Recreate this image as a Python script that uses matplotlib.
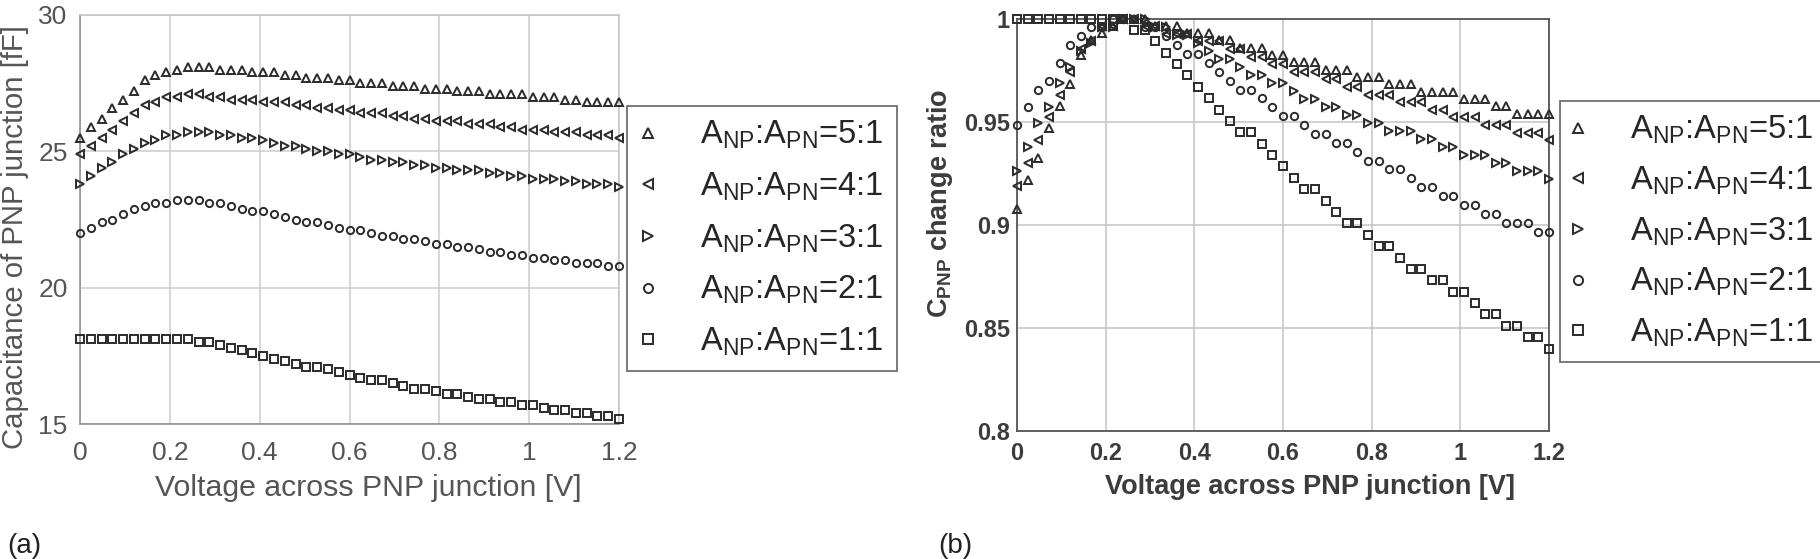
import numpy as np
import matplotlib
matplotlib.use('Agg')
import matplotlib.pyplot as plt

plt.rcParams['font.family'] = ['Liberation Sans', 'DejaVu Sans']
plt.rcParams['mathtext.default'] = 'regular'

# voltage across the PNP junction [V]
voltage = [0.000, 0.024, 0.048, 0.072, 0.096, 0.120, 0.144, 0.168, 0.192, 0.216,
           0.240, 0.264, 0.288, 0.312, 0.336, 0.360, 0.384, 0.408, 0.432, 0.456,
           0.480, 0.504, 0.528, 0.552, 0.576, 0.600, 0.624, 0.648, 0.672, 0.696,
           0.720, 0.744, 0.768, 0.792, 0.816, 0.840, 0.864, 0.888, 0.912, 0.936,
           0.960, 0.984, 1.008, 1.032, 1.056, 1.080, 1.104, 1.128, 1.152, 1.176,
           1.200]

# capacitance [fF] for each area ratio
cap_5to1 = [25.5, 25.9, 26.2, 26.6, 26.9, 27.2, 27.6, 27.8, 27.9, 28.0,
            28.1, 28.1, 28.1, 28.0, 28.0, 28.0, 27.9, 27.9, 27.9, 27.8,
            27.8, 27.7, 27.7, 27.7, 27.6, 27.6, 27.5, 27.5, 27.5, 27.4,
            27.4, 27.4, 27.3, 27.3, 27.3, 27.2, 27.2, 27.2, 27.1, 27.1,
            27.1, 27.1, 27.0, 27.0, 27.0, 26.9, 26.9, 26.8, 26.8, 26.8,
            26.8]
cap_4to1 = [24.9, 25.2, 25.5, 25.8, 26.1, 26.4, 26.7, 26.8, 27.0, 27.0,
            27.1, 27.1, 27.0, 27.0, 26.9, 26.9, 26.9, 26.8, 26.8, 26.8,
            26.7, 26.7, 26.6, 26.6, 26.5, 26.5, 26.4, 26.4, 26.4, 26.3,
            26.3, 26.2, 26.2, 26.1, 26.1, 26.1, 26.0, 26.0, 26.0, 25.9,
            25.9, 25.8, 25.8, 25.8, 25.7, 25.7, 25.7, 25.6, 25.6, 25.6,
            25.5]
cap_3to1 = [23.8, 24.1, 24.4, 24.6, 24.9, 25.1, 25.3, 25.4, 25.6, 25.6,
            25.7, 25.7, 25.7, 25.6, 25.6, 25.5, 25.5, 25.4, 25.3, 25.2,
            25.2, 25.1, 25.0, 25.0, 24.9, 24.9, 24.8, 24.7, 24.7, 24.6,
            24.6, 24.5, 24.5, 24.4, 24.4, 24.3, 24.3, 24.3, 24.2, 24.2,
            24.1, 24.1, 24.0, 24.0, 24.0, 23.9, 23.9, 23.8, 23.8, 23.8,
            23.7]
cap_2to1 = [22.0, 22.2, 22.4, 22.5, 22.7, 22.9, 23.0, 23.1, 23.1, 23.2,
            23.2, 23.2, 23.1, 23.1, 23.0, 22.9, 22.8, 22.8, 22.7, 22.6,
            22.5, 22.4, 22.4, 22.3, 22.2, 22.1, 22.1, 22.0, 21.9, 21.9,
            21.8, 21.8, 21.7, 21.6, 21.6, 21.5, 21.5, 21.4, 21.3, 21.3,
            21.2, 21.2, 21.1, 21.1, 21.0, 21.0, 20.9, 20.9, 20.9, 20.8,
            20.8]
cap_1to1 = [18.1, 18.1, 18.1, 18.1, 18.1, 18.1, 18.1, 18.1, 18.1, 18.1,
            18.1, 18.0, 18.0, 17.9, 17.8, 17.7, 17.6, 17.5, 17.4, 17.3,
            17.2, 17.1, 17.1, 17.0, 16.9, 16.8, 16.7, 16.6, 16.6, 16.5,
            16.4, 16.3, 16.3, 16.2, 16.1, 16.1, 16.0, 15.9, 15.9, 15.8,
            15.8, 15.7, 15.7, 15.6, 15.5, 15.5, 15.4, 15.4, 15.3, 15.3,
            15.2]

ratio_labels = ['A$_{NP}$:A$_{PN}$=5:1', 'A$_{NP}$:A$_{PN}$=4:1', 'A$_{NP}$:A$_{PN}$=3:1',
                'A$_{NP}$:A$_{PN}$=2:1', 'A$_{NP}$:A$_{PN}$=1:1']
markers = ['^', '<', '>', 'o', 's']
x_ticks = [0, 0.2, 0.4, 0.6, 0.8, 1.0, 1.2]
x_ticklabels = ['0', '0.2', '0.4', '0.6', '0.8', '1', '1.2']

W, H = 1820, 559
fig = plt.figure(figsize=(W / 100, H / 100), dpi=100)

def box(x0, y0, x1, y1):
    return [x0 / W, 1 - y1 / H, (x1 - x0) / W, (y1 - y0) / H]

def fx(x):
    return x / W

def fy(y):
    return 1 - y / H

ax1 = fig.add_axes(box(80, 15, 619, 424))
ax2 = fig.add_axes(box(1017, 18.5, 1549, 430.5))

mk = '#2b2b2b'
for caps, m, lab in zip([cap_5to1, cap_4to1, cap_3to1, cap_2to1, cap_1to1], markers, ratio_labels):
    caps = np.array(caps)
    ax1.plot(voltage, caps, ls='none', marker=m, ms=5.2, mfc='none', mec=mk, mew=1.4,
             clip_on=False, label=lab, zorder=3)
    # change ratio = capacitance relative to its own maximum
    ax2.plot(voltage, caps / caps.max(), ls='none', marker=m, ms=5.3, mfc='none', mec=mk,
             mew=1.4, clip_on=False, label=lab, zorder=3)

# left panel: light MATLAB look
ax1.set_xlim(0, 1.2)
ax1.set_ylim(15, 30)
ax1.set_xticks(x_ticks)
ax1.set_xticklabels(x_ticklabels)
ax1.set_yticks([15, 20, 25, 30])
ax1.grid(True, color='#cdcdcd', lw=1.1)
ax1.set_axisbelow(True)
for s in ['left', 'bottom']:
    ax1.spines[s].set_color('#8a8a8a')
for s in ['top', 'right']:
    ax1.spines[s].set_color('#c4c4c4')
for s in ax1.spines.values():
    s.set_linewidth(1.1)
ax1.tick_params(axis='both', direction='in', length=0, labelsize=19, labelcolor='#555555')
ax1.tick_params(axis='y', pad=9)
ax1.tick_params(axis='x', pad=12)

# right panel: bold, darker
ax2.set_xlim(0, 1.2)
ax2.set_ylim(0.8, 1.0)
ax2.set_xticks(x_ticks)
ax2.set_xticklabels(x_ticklabels)
ax2.set_yticks([0.8, 0.85, 0.9, 0.95, 1.0])
ax2.set_yticklabels(['0.8', '0.85', '0.9', '0.95', '1'])
ax2.grid(True, color='#c4c4c4', lw=1.1)
ax2.set_axisbelow(True)
for s in ax2.spines.values():
    s.set_color('#555555')
    s.set_linewidth(1.3)
ax2.tick_params(axis='both', direction='in', length=0, labelsize=17, labelcolor='#3c3c3c')
for t in ax2.get_xticklabels() + ax2.get_yticklabels():
    t.set_fontweight('bold')
ax2.tick_params(axis='y', pad=5)
ax2.tick_params(axis='x', pad=8)

fig.text(fx(368), fy(488), 'Voltage across PNP junction [V]', ha='center', va='center',
         fontsize=21.8, color='#555555')
fig.text(fx(15), fy(237), 'Capacitance of PNP junction [fF]', ha='center', va='center',
         rotation=90, fontsize=21.2, color='#555555')
fig.text(fx(1310), fy(487), 'Voltage across PNP junction [V]', ha='center', va='center',
         fontsize=19.5, fontweight='bold', color='#3c3c3c')
fig.text(fx(940), fy(203), 'C$_{PNP}$ change ratio', ha='center', va='center',
         rotation=90, fontsize=19.5, fontweight='bold', color='#3c3c3c')
fig.text(fx(7), fy(546), '(a)', ha='left', va='center', fontsize=20, color='#222222')
fig.text(fx(938), fy(546), '(b)', ha='left', va='center', fontsize=20, color='#222222')

leg_kw = dict(loc='upper left', bbox_transform=fig.transFigure, borderaxespad=0,
              fontsize=23.5, frameon=True, fancybox=False, framealpha=1,
              edgecolor='#707070', borderpad=0.4, labelcolor='#262626', markerscale=1.25)
lg1 = ax1.legend(bbox_to_anchor=(fx(627), fy(106)), handlelength=0.49, handletextpad=1.35,
                 labelspacing=0.59, **leg_kw)
lg2 = ax2.legend(bbox_to_anchor=(fx(1560), fy(101)), handlelength=0.31, handletextpad=1.44,
                 labelspacing=0.56, **leg_kw)
for lg in (lg1, lg2):
    lg.get_frame().set_linewidth(1.3)

fig.savefig('out.png', dpi=100)
